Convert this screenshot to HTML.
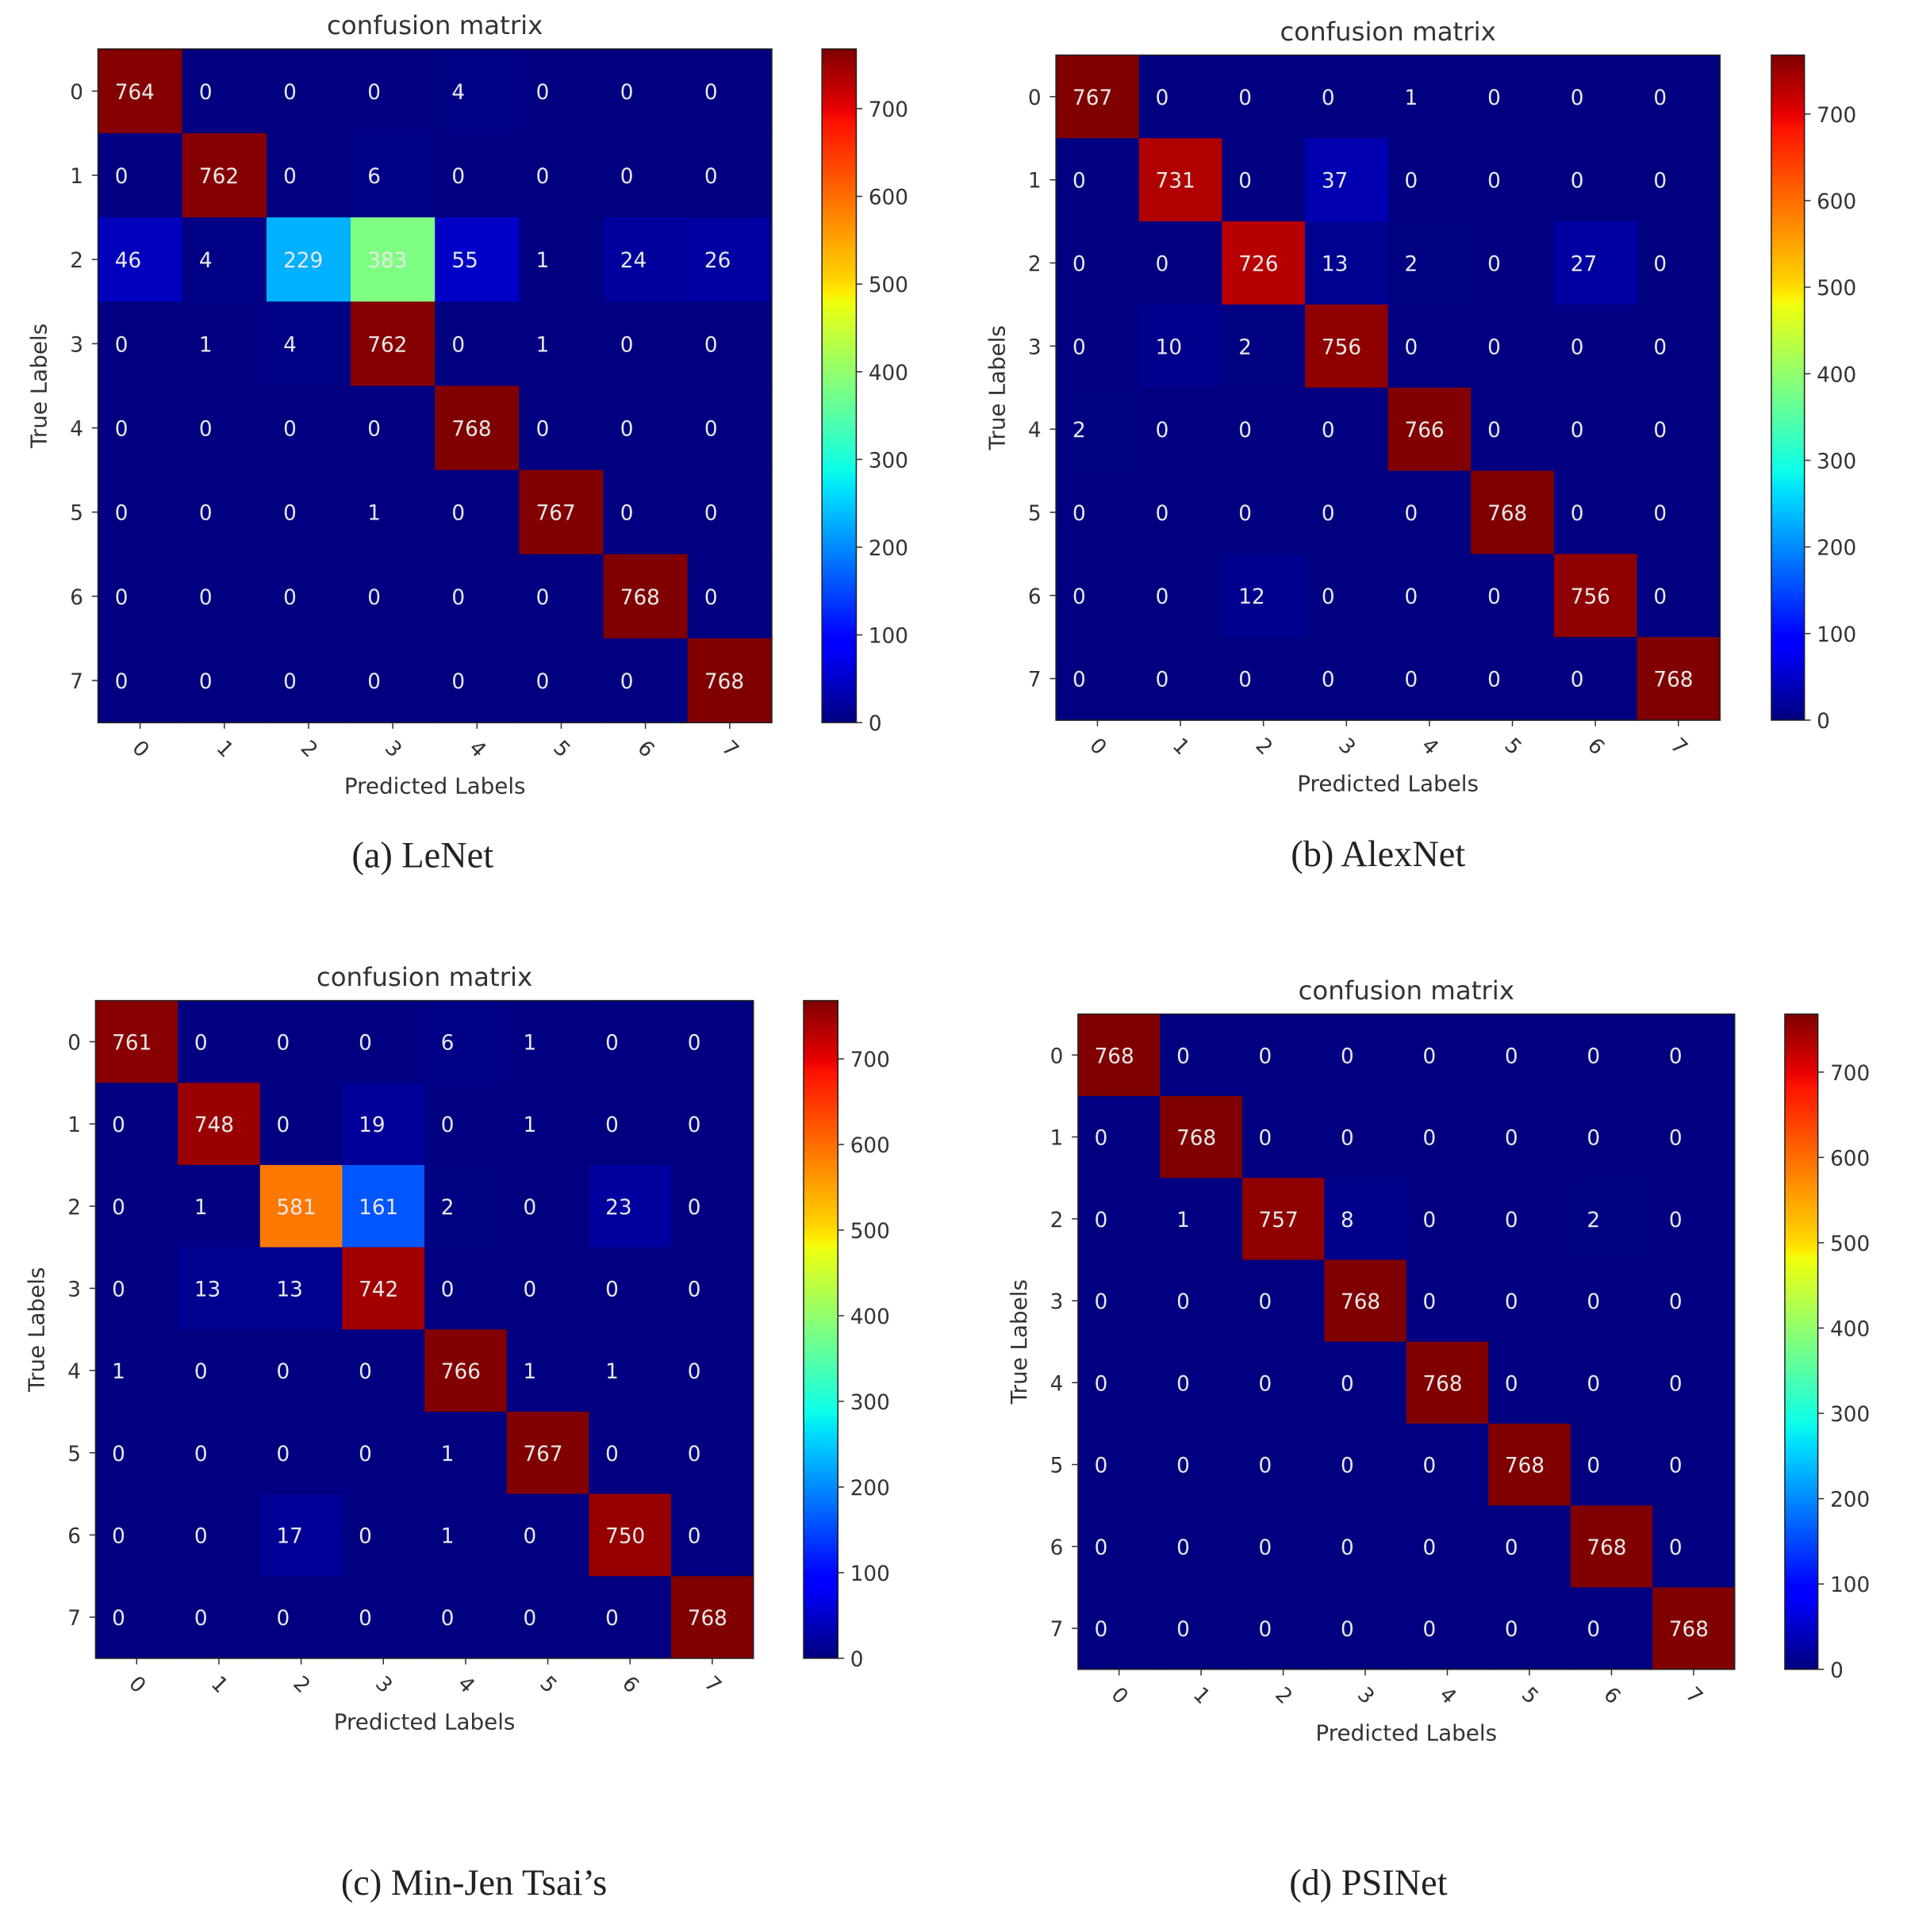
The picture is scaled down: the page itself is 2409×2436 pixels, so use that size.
<!DOCTYPE html>
<html><head><meta charset="utf-8"><style>
html,body{margin:0;padding:0;background:#fff;}
svg{display:block;}
</style></head><body>
<svg id="s" xmlns="http://www.w3.org/2000/svg" width="2409" height="2436" viewBox="0 0 1560 1577.5" preserveAspectRatio="none">
<defs>
<linearGradient id="jet" x1="0" y1="1" x2="0" y2="0">
<stop offset="0" stop-color="#00007f"/>
<stop offset="0.11" stop-color="#0000ff"/>
<stop offset="0.125" stop-color="#0000ff"/>
<stop offset="0.34" stop-color="#00dbff"/>
<stop offset="0.35" stop-color="#00e5f7"/>
<stop offset="0.375" stop-color="#0dffea"/>
<stop offset="0.5" stop-color="#7fff7f"/>
<stop offset="0.625" stop-color="#f0ff0d"/>
<stop offset="0.64" stop-color="#ffea00"/>
<stop offset="0.66" stop-color="#ffd200"/>
<stop offset="0.89" stop-color="#ff1200"/>
<stop offset="0.91" stop-color="#e80000"/>
<stop offset="1" stop-color="#7f0000"/>
</linearGradient>
</defs>
<g id="root"></g>
</svg>
<script>
function jet(x){function c(v){return Math.max(0,Math.min(1,v));}
var r=c(1.5-Math.abs(4*x-3)),g=c(1.5-Math.abs(4*x-2)),b=c(1.5-Math.abs(4*x-1));
return "rgb("+Math.round(r*255)+","+Math.round(g*255)+","+Math.round(b*255)+")";}
var D={
a:[[764,0,0,0,4,0,0,0],[0,762,0,6,0,0,0,0],[46,4,229,383,55,1,24,26],[0,1,4,762,0,1,0,0],[0,0,0,0,768,0,0,0],[0,0,0,1,0,767,0,0],[0,0,0,0,0,0,768,0],[0,0,0,0,0,0,0,768]],
b:[[767,0,0,0,1,0,0,0],[0,731,0,37,0,0,0,0],[0,0,726,13,2,0,27,0],[0,10,2,756,0,0,0,0],[2,0,0,0,766,0,0,0],[0,0,0,0,0,768,0,0],[0,0,12,0,0,0,756,0],[0,0,0,0,0,0,0,768]],
c:[[761,0,0,0,6,1,0,0],[0,748,0,19,0,1,0,0],[0,1,581,161,2,0,23,0],[0,13,13,742,0,0,0,0],[1,0,0,0,766,1,1,0],[0,0,0,0,1,767,0,0],[0,0,17,0,1,0,750,0],[0,0,0,0,0,0,0,768]],
d:[[768,0,0,0,0,0,0,0],[0,768,0,0,0,0,0,0],[0,1,757,8,0,0,2,0],[0,0,0,768,0,0,0,0],[0,0,0,0,768,0,0,0],[0,0,0,0,0,768,0,0],[0,0,0,0,0,0,768,0],[0,0,0,0,0,0,0,768]]};
var P=[
{k:'a',x0:80,x1:630,y0:40,y1:590,cb:671,cbw:28,cap:'(a) LeNet',capx:345,capy:698},
{k:'b',x0:862,x1:1404,y0:45,y1:588,cb:1446,cbw:27,cap:'(b) AlexNet',capx:1125,capy:697},
{k:'c',x0:78,x1:615,y0:817,y1:1354,cb:656,cbw:28,cap:'(c) Min-Jen Tsai\u2019s',capx:387,capy:1537},
{k:'d',x0:880,x1:1416,y0:828,y1:1363,cb:1457,cbw:27,cap:'(d) PSINet',capx:1117,capy:1537}];
var h='';var F='font-family="DejaVu Sans, Liberation Sans, sans-serif"';
P.forEach(function(p){
var m=D[p.k],cw=(p.x1-p.x0)/8,ch=(p.y1-p.y0)/8;
for(var i=0;i<8;i++)for(var j=0;j<8;j++){
h+='<rect x="'+(p.x0+j*cw)+'" y="'+(p.y0+i*ch)+'" width="'+(cw+0.5)+'" height="'+(ch+0.5)+'" fill="'+jet(m[i][j]/768)+'"/>';}
for(var i=0;i<8;i++)for(var j=0;j<8;j++){
h+='<text x="'+(p.x0+j*cw+cw*0.2)+'" y="'+(p.y0+i*ch+ch/2+6.5)+'" '+F+' font-size="17" fill="#e8e8e8">'+m[i][j]+'</text>';}
h+='<rect x="'+p.x0+'" y="'+p.y0+'" width="'+(p.x1-p.x0)+'" height="'+(p.y1-p.y0)+'" fill="none" stroke="#222" stroke-width="1"/>';
for(var i=0;i<8;i++){var yc=p.y0+i*ch+ch/2;
h+='<line x1="'+(p.x0-5)+'" x2="'+p.x0+'" y1="'+yc+'" y2="'+yc+'" stroke="#333"/>';
h+='<text x="'+(p.x0-12)+'" y="'+(yc+6.5)+'" '+F+' font-size="17" fill="#333" text-anchor="end">'+i+'</text>';
var xc=p.x0+i*cw+cw/2;
h+='<line x1="'+xc+'" x2="'+xc+'" y1="'+p.y1+'" y2="'+(p.y1+5)+'" stroke="#333"/>';
h+='<text transform="translate('+xc+','+(p.y1+22)+') rotate(45)" '+F+' font-size="17" fill="#333" text-anchor="middle" dominant-baseline="middle">'+i+'</text>';}
var mx=(p.x0+p.x1)/2,my=(p.y0+p.y1)/2;
h+='<text x="'+mx+'" y="'+(p.y0-12)+'" '+F+' font-size="21" fill="#333" text-anchor="middle">confusion matrix</text>';
h+='<text x="'+mx+'" y="'+(p.y1+58)+'" '+F+' font-size="18" fill="#333" text-anchor="middle">Predicted Labels</text>';
h+='<text transform="translate('+(p.x0-42)+','+my+') rotate(-90)" '+F+' font-size="18" fill="#333" text-anchor="middle">True Labels</text>';
h+='<rect x="'+p.cb+'" y="'+p.y0+'" width="'+p.cbw+'" height="'+(p.y1-p.y0)+'" fill="url(#jet)" stroke="#222" stroke-width="1"/>';
for(var v=0;v<=700;v+=100){var y=p.y1-v/768*(p.y1-p.y0);
h+='<line x1="'+(p.cb+p.cbw)+'" x2="'+(p.cb+p.cbw+5)+'" y1="'+y+'" y2="'+y+'" stroke="#333"/>';
h+='<text x="'+(p.cb+p.cbw+10)+'" y="'+(y+6.5)+'" '+F+' font-size="17" fill="#333">'+v+'</text>';}
h+='<text x="'+p.capx+'" y="'+(p.capy+10)+'" font-family="Liberation Serif, DejaVu Serif, serif" font-size="30" fill="#222" text-anchor="middle">'+p.cap+'</text>';
});
document.getElementById('root').innerHTML=h;
</script>
</body></html>
